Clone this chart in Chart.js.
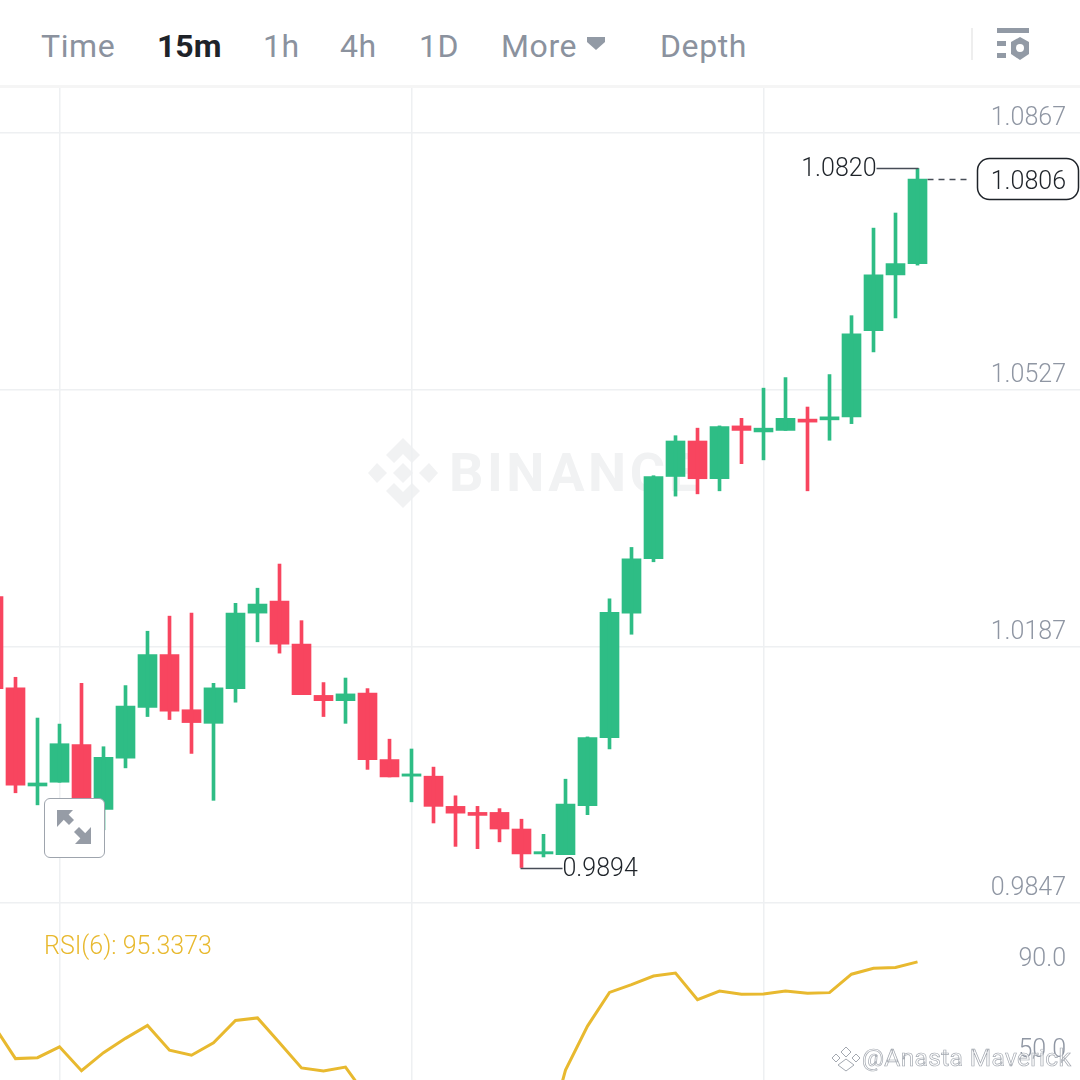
<!DOCTYPE html>
<html lang="en">
<head>
  <meta charset="UTF-8">
  <title>15m chart</title>
  <script src="https://cdn.jsdelivr.net/npm/chart.js"></script>
  <style>
    * { margin: 0; padding: 0; box-sizing: border-box; }
    body { width: 1080px; height: 1080px; background: #fff; overflow: hidden; position: relative; font-family: Roboto, sans-serif; }
    canvas { position: absolute; left: 0; }
    #priceChart { top: 88px; }
    #rsiChart { top: 903px; }
    .bar { position: absolute; left: 0; top: 85px; width: 1080px; height: 3px; background: #f5f5f5; }
    .tab { position: absolute; top: 27px; font-size: 32px; line-height: 38px; color: #8b929e; letter-spacing: 0.6px; }
    .tab.on { color: #1e2329; font-weight: 700; letter-spacing: 0; }
    .sep { position: absolute; left: 971px; top: 28px; width: 2px; height: 32px; background: #eeeeee; }
    .mark { position: absolute; left: 368px; top: 438px; }
    .brand { position: absolute; left: 449px; top: 441px; font-size: 54px; line-height: 64px; font-weight: 700; letter-spacing: 3.5px; color: #f1f2f3; }
    .zoomBtn { position: absolute; left: 44px; top: 798px; width: 61px; height: 60px; background: #fff; border: 1.5px solid #9ea4ad; border-radius: 6px; }
    .legend { position: absolute; left: 44px; top: 932px; font-size: 25px; line-height: 28px; font-weight: 300; color: #e8b92f; }
    .credit { position: absolute; left: 862px; top: 1043px; font-size: 24.5px; line-height: 30px; color: rgba(255,255,255,0.75); -webkit-text-stroke: 0.7px #a3a8b0; letter-spacing: 0.35px; }
    .creditMark { position: absolute; left: 831px; top: 1046px; }
  </style>
</head>
<body>
  <div class="tab" style="left:41px">Time</div>
  <div class="tab on" style="left:157px">15m</div>
  <div class="tab" style="left:263px">1h</div>
  <div class="tab" style="left:340px">4h</div>
  <div class="tab" style="left:419px">1D</div>
  <div class="tab" style="left:501px">More</div>
  <svg style="position:absolute;left:586px;top:36px" width="20" height="15"><path d="M1 1H19V6L10 14L1 6Z" fill="#929aa5"/></svg>
  <div class="tab" style="left:660px">Depth</div>
  <div class="sep"></div>
  <svg style="position:absolute;left:996px;top:27px" width="36" height="34">
    <rect x="1" y="1" width="32" height="5" fill="#929aa5"/>
    <rect x="1" y="14" width="9" height="5" fill="#929aa5"/>
    <rect x="1" y="26" width="9" height="5" fill="#929aa5"/>
    <path d="M24 10L33 15V27L24 33L15 27V15Z" fill="#929aa5"/>
    <circle cx="24" cy="21" r="4" fill="#fff"/>
  </svg>
  <div class="bar"></div>

  <svg class="mark" width="70" height="70" viewBox="0 0 70 70" fill="#f1f2f3">
    <path d="M35 0L52 17L44 25L35 16L26 25L18 17Z"/>
    <path d="M35 70L52 53L44 45L35 54L26 45L18 53Z"/>
    <path d="M35 25L45 35L35 45L25 35Z"/>
    <path d="M9 25L19 35L9 45L0 35Z"/>
    <path d="M61 25L70 35L61 45L51 35Z"/>
  </svg>
  <div class="brand">BINANCE</div>

  <canvas id="priceChart" width="1080" height="816"></canvas>
  <canvas id="rsiChart" width="1080" height="177"></canvas>

  <div class="zoomBtn">
    <svg width="57" height="57" viewBox="0 0 57 57" fill="#969ca6">
      <path d="M12 11H28L12 28Z"/>
      <path d="M16 18L21 13L29 21L24 26Z"/>
      <path d="M46 45H30L46 28Z"/>
      <path d="M29 33L34 28L42 36L37 41Z"/>
    </svg>
  </div>
  <div class="legend" id="rsiLegend"></div>
  <svg class="creditMark" width="30" height="26" viewBox="0 0 30 26" fill="#fff" stroke="#a3a8b0" stroke-width="1">
    <path d="M15 1L20 6L15 11L10 6Z"/>
    <path d="M5 8L9 12L5 16L1 12Z"/>
    <path d="M25 8L29 12L25 16L21 12Z"/>
    <path d="M15 13L23 19L15 25L7 19Z"/>
  </svg>
  <div class="credit">@Anasta Maverick</div>

  <script>
    const candleIndex = [0,1,2,3,4,5,6,7,8,9,10,11,12,13,14,15,16,17,18,19,20,21,22,23,24,25,26,27,28,29,30,31,32,33,34,35,36,37,38,39,40,41,42];
    const opens = [1.0253,1.0132,1.0002,1.0007,1.0057,0.9971,1.0039,1.0106,1.0176,1.0103,1.0085,1.0131,1.0231,1.0247,1.0190,1.0122,1.0115,1.0125,1.0037,1.0015,1.0015,0.9975,0.9967,0.9967,0.9945,0.9912,0.9911,0.9976,1.0066,1.0231,1.0303,1.0412,1.0459,1.0409,1.0479,1.0471,1.0473,1.0488,1.0487,1.0491,1.0605,1.0679,1.0694];
    const highs = [1.0262,1.0146,1.0092,1.0084,1.0138,1.0054,1.0135,1.0207,1.0227,1.0231,1.0138,1.0244,1.0264,1.0296,1.0221,1.0139,1.0145,1.0131,1.0064,1.0051,1.0027,0.9989,0.9975,0.9972,0.9958,0.9938,1.0011,1.0067,1.0250,1.0318,1.0413,1.0466,1.0476,1.0479,1.0489,1.0529,1.0543,1.0504,1.0547,1.0625,1.0741,1.0761,1.0820];
    const lows = [1.0122,0.9993,0.9977,1.0007,0.9973,0.9944,1.0026,1.0094,1.0090,1.0045,0.9983,1.0113,1.0193,1.0178,1.0123,1.0094,1.0085,1.0024,1.0014,0.9981,0.9953,0.9922,0.9919,0.9928,0.9894,0.9908,0.9911,0.9964,1.0051,1.0203,1.0299,1.0386,1.0389,1.0393,1.0429,1.0434,1.0473,1.0393,1.0460,1.0482,1.0577,1.0622,1.0692];
    const closes = [1.0131,1.0003,1.0006,1.0058,0.9973,1.0040,1.0108,1.0176,1.0101,1.0086,1.0132,1.0231,1.0243,1.0190,1.0123,1.0115,1.0124,1.0037,1.0014,1.0018,0.9975,0.9966,0.9963,0.9945,0.9912,0.9915,0.9978,1.0066,1.0232,1.0303,1.0412,1.0459,1.0409,1.0478,1.0473,1.0476,1.0489,1.0484,1.0491,1.0601,1.0679,1.0694,1.0806];
    const rsiValues = [67.6,52.8,53.2,58.0,47.5,55.4,61.7,67.4,56.5,54.3,59.8,69.6,70.7,59.8,48.7,47.4,49.1,35.6,26,27,20,18,17,14,10,12,47.8,67.1,81.9,85.3,89.1,90.4,78.7,82.5,81.1,81.2,82.5,81.5,81.8,89.9,92.5,92.9,95.3373];
    const priceTicks = [0.9847,1.0187,1.0527,1.0867];
    const rsiTicks = [50,90];
    const timeGridIndex = [3,19,35];

    const green = "#2ebd85";
    const red = "#f8455f";
    const gridColor = "#eef0f2";
    const tickColor = "#8f96a3";
    const darkText = "#1e2329";
    const tickFont = { family: "Roboto", size: 25, weight: "300" };

    const lastHigh = Math.max(...highs);
    const lastLow = Math.min(...lows);
    const colors = candleIndex.map(i => closes[i] >= opens[i] ? green : red);

    // index 0 sits at x = -6.5 and candles are 22px apart
    const xMin = 0.2955;
    const xMax = 49.386;

    function flatAxis(scale) {
      scale.width = scale.isHorizontal() ? scale.width : 0;
      scale.height = scale.isHorizontal() ? 0 : scale.height;
      scale.paddingTop = 0;
      scale.paddingBottom = 0;
      scale.paddingLeft = 0;
      scale.paddingRight = 0;
    }

    function xAxis() {
      return {
        type: "linear",
        min: xMin,
        max: xMax,
        offset: false,
        afterBuildTicks: s => { s.ticks = timeGridIndex.map(v => ({ value: v })); },
        afterFit: flatAxis,
        ticks: { display: false },
        border: { display: false },
        grid: { color: gridColor, lineWidth: 1.5, drawTicks: false, offset: false }
      };
    }

    const priceLabels = {
      id: "priceLabels",
      afterDatasetsDraw(chart) {
        const c = chart.ctx;
        const x = chart.scales.x;
        const y = chart.scales.y;
        c.save();
        c.font = "300 25px Roboto";
        c.textBaseline = "middle";
        c.fillStyle = darkText;
        c.strokeStyle = "#474d57";
        c.lineWidth = 1.5;

        // highest and lowest marks
        const hx = x.getPixelForValue(highs.indexOf(lastHigh));
        const hy = Math.round(y.getPixelForValue(lastHigh)) + 0.5;
        c.beginPath();
        c.moveTo(hx + 1, hy);
        c.lineTo(hx - 41, hy);
        c.stroke();
        c.textAlign = "right";
        c.fillText(lastHigh.toFixed(4), hx - 41, hy + 1);

        const lx = x.getPixelForValue(lows.indexOf(lastLow));
        const ly = Math.round(y.getPixelForValue(lastLow)) + 0.5;
        c.beginPath();
        c.moveTo(lx - 1, ly);
        c.lineTo(lx + 41, ly);
        c.stroke();
        c.textAlign = "left";
        c.fillText(lastLow.toFixed(4), lx + 41, ly + 1);

        // last price line and pill
        const last = closes[closes.length - 1];
        const ey = Math.round(y.getPixelForValue(last)) + 0.5;
        const ex = x.getPixelForValue(candleIndex[candleIndex.length - 1]);
        c.setLineDash([6, 5]);
        c.beginPath();
        c.moveTo(ex + 10, ey);
        c.lineTo(967, ey);
        c.stroke();
        c.setLineDash([]);
        c.strokeStyle = darkText;
        c.fillStyle = "#fff";
        c.beginPath();
        c.roundRect(977.5, ey - 21, 101, 41, 12);
        c.fill();
        c.stroke();
        c.fillStyle = darkText;
        c.textAlign = "right";
        c.fillText(last.toFixed(4), 1066, ey + 3);
        c.restore();
      }
    };

    new Chart(document.getElementById("priceChart"), {
      type: "bar",
      data: {
        labels: candleIndex,
        datasets: [
          {
            label: "wick",
            data: candleIndex.map(i => [lows[i], highs[i]]),
            backgroundColor: colors,
            barThickness: 3,
            grouped: false
          },
          {
            label: "body",
            data: candleIndex.map(i => [opens[i], closes[i]]),
            backgroundColor: colors,
            barThickness: 19,
            grouped: false
          }
        ]
      },
      options: {
        responsive: false,
        animation: false,
        events: [],
        layout: { padding: { bottom: 1 } },
        plugins: { legend: { display: false }, tooltip: { enabled: false } },
        scales: {
          x: xAxis(),
          y: {
            position: "right",
            min: 0.9847,
            max: 1.09266,
            afterBuildTicks: s => { s.ticks = priceTicks.map(v => ({ value: v })); },
            afterFit: flatAxis,
            border: { display: false },
            grid: { color: gridColor, lineWidth: 1.5, drawTicks: false },
            ticks: {
              mirror: true,
              padding: -14,
              labelOffset: -14,
              color: tickColor,
              font: tickFont,
              callback: v => v.toFixed(4)
            }
          }
        }
      },
      plugins: [priceLabels]
    });

    new Chart(document.getElementById("rsiChart"), {
      type: "line",
      data: {
        labels: candleIndex,
        datasets: [{
          label: "RSI(6)",
          data: rsiValues,
          borderColor: "#e8b92f",
          borderWidth: 3,
          pointRadius: 0,
          tension: 0
        }]
      },
      options: {
        responsive: false,
        animation: false,
        events: [],
        plugins: { legend: { display: false }, tooltip: { enabled: false } },
        scales: {
          x: xAxis(),
          y: {
            position: "right",
            min: 43.4,
            max: 121.2,
            afterBuildTicks: s => { s.ticks = rsiTicks.map(v => ({ value: v })); },
            afterFit: flatAxis,
            border: { display: false },
            grid: { display: false },
            ticks: {
              mirror: true,
              padding: -14,
              labelOffset: -14,
              color: tickColor,
              font: tickFont,
              callback: v => v.toFixed(1)
            }
          }
        }
      }
    });

    document.getElementById("rsiLegend").textContent = "RSI(6): " + rsiValues[rsiValues.length - 1];
  </script>
</body>
</html>
